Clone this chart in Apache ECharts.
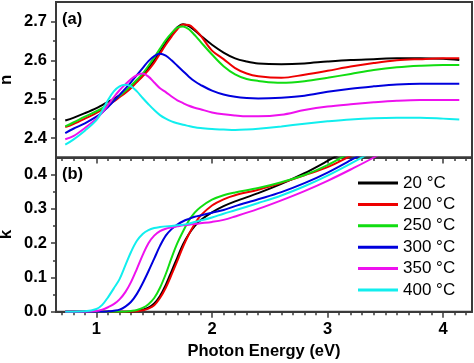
<!DOCTYPE html>
<html>
<head>
<meta charset="utf-8">
<script src="https://cdn.jsdelivr.net/npm/echarts@6/dist/echarts.min.js"></script>
<style>html,body{margin:0;padding:0;background:#fff;}#c{width:474px;height:363px;}</style>
</head>
<body>
<div id="c"></div>
<script>
// ---- data ----
const seriesNames = ['20 °C', '200 °C', '250 °C', '300 °C', '350 °C', '400 °C'];
const energyN = [0.73, 0.8, 0.9, 1.0, 1.05, 1.1, 1.15, 1.2, 1.25, 1.3, 1.35, 1.4, 1.45, 1.5, 1.55, 1.6, 1.65, 1.7, 1.75, 1.8, 1.85, 1.9, 2.0, 2.1, 2.2, 2.3, 2.4, 2.6, 2.8, 3.0, 3.2, 3.4, 3.6, 3.8, 4.0, 4.14];
const n20  = [2.445, 2.452, 2.464, 2.477, 2.485, 2.493, 2.501, 2.510, 2.520, 2.532, 2.546, 2.562, 2.580, 2.600, 2.622, 2.645, 2.667, 2.685, 2.693, 2.688, 2.677, 2.664, 2.640, 2.620, 2.605, 2.597, 2.592, 2.590, 2.592, 2.597, 2.601, 2.603, 2.605, 2.605, 2.604, 2.601];
const n200 = [2.428, 2.436, 2.450, 2.465, 2.474, 2.484, 2.494, 2.505, 2.516, 2.529, 2.544, 2.559, 2.575, 2.594, 2.617, 2.640, 2.661, 2.680, 2.692, 2.691, 2.680, 2.664, 2.625, 2.603, 2.580, 2.566, 2.559, 2.555, 2.563, 2.573, 2.584, 2.593, 2.600, 2.603, 2.605, 2.605];
const n250 = [2.430, 2.440, 2.455, 2.469, 2.477, 2.486, 2.497, 2.509, 2.521, 2.535, 2.550, 2.566, 2.586, 2.607, 2.630, 2.652, 2.670, 2.684, 2.687, 2.680, 2.665, 2.648, 2.615, 2.585, 2.564, 2.552, 2.547, 2.542, 2.546, 2.555, 2.565, 2.575, 2.582, 2.586, 2.588, 2.588];
const n300 = [2.413, 2.424, 2.438, 2.455, 2.466, 2.480, 2.495, 2.511, 2.527, 2.544, 2.562, 2.580, 2.598, 2.611, 2.617, 2.612, 2.600, 2.586, 2.572, 2.558, 2.546, 2.537, 2.522, 2.512, 2.506, 2.503, 2.502, 2.504, 2.509, 2.519, 2.527, 2.533, 2.538, 2.540, 2.540, 2.540];
const n350 = [2.397, 2.405, 2.426, 2.450, 2.466, 2.485, 2.505, 2.523, 2.538, 2.552, 2.562, 2.566, 2.558, 2.543, 2.528, 2.518, 2.507, 2.497, 2.490, 2.483, 2.478, 2.474, 2.466, 2.461, 2.458, 2.456, 2.456, 2.460, 2.472, 2.481, 2.487, 2.492, 2.496, 2.498, 2.498, 2.498];
const n400 = [2.383, 2.396, 2.419, 2.446, 2.470, 2.498, 2.520, 2.533, 2.537, 2.533, 2.520, 2.503, 2.487, 2.472, 2.459, 2.450, 2.443, 2.438, 2.434, 2.431, 2.428, 2.426, 2.423, 2.422, 2.421, 2.422, 2.424, 2.430, 2.437, 2.443, 2.448, 2.451, 2.452, 2.452, 2.450, 2.448];

const energyK = [0.73, 0.8, 0.9, 1.0, 1.05, 1.1, 1.15, 1.2, 1.25, 1.3, 1.35, 1.4, 1.45, 1.5, 1.55, 1.6, 1.65, 1.7, 1.75, 1.8, 1.85, 1.9, 2.0, 2.1, 2.2, 2.4, 2.6, 2.8, 3.0, 3.2, 3.4, 3.6];
const k20  = [0, 0, 0, 0, 0, 0, 0, 0, 0, 0, 0.002, 0.006, 0.012, 0.024, 0.046, 0.078, 0.118, 0.158, 0.197, 0.227, 0.250, 0.267, 0.290, 0.308, 0.322, 0.346, 0.373, 0.404, 0.440, 0.478, 0.52, 0.56];
const k200 = [0, 0, 0, 0, 0, 0, 0, 0, 0, 0, 0.001, 0.004, 0.009, 0.019, 0.040, 0.070, 0.108, 0.148, 0.190, 0.226, 0.256, 0.280, 0.310, 0.328, 0.340, 0.356, 0.376, 0.398, 0.422, 0.455, 0.49, 0.53];
const k250 = [0, 0, 0, 0, 0, 0, 0, 0, 0, 0.002, 0.005, 0.011, 0.022, 0.040, 0.070, 0.110, 0.157, 0.200, 0.235, 0.266, 0.289, 0.305, 0.327, 0.340, 0.348, 0.361, 0.378, 0.399, 0.428, 0.465, 0.50, 0.54];
const k300 = [0, 0, 0, 0, 0, 0.001, 0.003, 0.006, 0.015, 0.029, 0.052, 0.083, 0.118, 0.155, 0.192, 0.222, 0.241, 0.254, 0.264, 0.271, 0.277, 0.281, 0.289, 0.297, 0.308, 0.328, 0.349, 0.375, 0.406, 0.442, 0.48, 0.52];
const k350 = [0, 0, 0, 0.002, 0.006, 0.013, 0.022, 0.036, 0.057, 0.087, 0.125, 0.165, 0.200, 0.222, 0.235, 0.242, 0.246, 0.249, 0.252, 0.254, 0.256, 0.258, 0.262, 0.268, 0.278, 0.300, 0.325, 0.352, 0.382, 0.415, 0.450, 0.49];
const k400 = [0, 0, 0.001, 0.008, 0.020, 0.042, 0.068, 0.095, 0.135, 0.175, 0.207, 0.227, 0.238, 0.244, 0.247, 0.249, 0.250, 0.252, 0.254, 0.257, 0.262, 0.266, 0.275, 0.286, 0.296, 0.317, 0.339, 0.366, 0.397, 0.432, 0.47, 0.51];

const xMajorTicks = [1, 2, 3, 4];
const xMinorTicks = [0.7, 0.8, 0.9, 1.1, 1.2, 1.3, 1.4, 1.5, 1.6, 1.7, 1.8, 1.9, 2.1, 2.2, 2.3, 2.4, 2.5, 2.6, 2.7, 2.8, 2.9, 3.1, 3.2, 3.3, 3.4, 3.5, 3.6, 3.7, 3.8, 3.9, 4.1, 4.2];
const nMajorTicks = [2.4, 2.5, 2.6, 2.7];
const nMinorTicks = [2.45, 2.55, 2.65];
const kMajorTicks = [0.0, 0.1, 0.2, 0.3, 0.4];
const kMinorTicks = [0.05, 0.15, 0.25, 0.35];

const colors = ['#000000', '#ee0000', '#11dd11', '#0000dd', '#ee11ee', '#11eeee'];
const nSets = [n20, n200, n250, n300, n350, n400];
const kSets = [k20, k200, k250, k300, k350, k400];

// ---- chart ----
const FONT = "'Liberation Sans', Arial, sans-serif";
const frameColor = '#3a3a3a';
const chart = echarts.init(document.getElementById('c'), null, {renderer: 'canvas'});

function majorX(grid, labels) {
  return {
    type: 'value', gridIndex: grid, min: 0.65, max: 4.25, position: 'bottom',
    axisLine: {show: true, lineStyle: {color: frameColor, width: 2}},
    axisTick: {show: true, inside: false, length: 6, customValues: xMajorTicks, lineStyle: {color: frameColor, width: 1.5}},
    axisLabel: labels ? {show: true, customValues: xMajorTicks, margin: 9, color: '#000', fontSize: 16.5, fontWeight: 'bold', fontFamily: FONT} : {show: false},
    splitLine: {show: false},
    name: labels ? 'Photon Energy (eV)' : '',
    nameLocation: 'middle', nameGap: 31, nameMoveOverlap: false,
    nameTextStyle: {color: '#000', fontSize: 16.5, fontWeight: 'bold', fontFamily: FONT}
  };
}
function minorX(grid) {
  return {
    type: 'value', gridIndex: grid, min: 0.65, max: 4.25, position: 'bottom',
    axisLine: {show: false},
    axisTick: {show: true, inside: false, length: 3.5, customValues: xMinorTicks, lineStyle: {color: frameColor, width: 1.5}},
    axisLabel: {show: false}, splitLine: {show: false}
  };
}
function majorY(grid, min, max, ticks, name, dec) {
  return {
    type: 'value', gridIndex: grid, min: min, max: max, position: 'left',
    axisLine: {show: true, lineStyle: {color: frameColor, width: 2}},
    axisTick: {show: true, inside: false, length: 5, customValues: ticks, lineStyle: {color: frameColor, width: 1.5}},
    axisLabel: {show: true, customValues: ticks, margin: 9, color: '#000', fontSize: 16.5, fontWeight: 'bold', fontFamily: FONT,
      formatter: v => Number(v).toFixed(dec)},
    splitLine: {show: false},
    name: name, nameLocation: 'middle', nameGap: 41, nameRotate: 90, nameMoveOverlap: false,
    nameTextStyle: {color: '#000', fontSize: 17, fontWeight: 'bold', fontFamily: FONT}
  };
}
function minorY(grid, min, max, ticks) {
  return {
    type: 'value', gridIndex: grid, min: min, max: max, position: 'left',
    axisLine: {show: false},
    axisTick: {show: true, inside: false, length: 3, customValues: ticks, lineStyle: {color: frameColor, width: 1.5}},
    axisLabel: {show: false}, splitLine: {show: false}
  };
}

const series = [];
seriesNames.forEach((nm, i) => {
  series.push({
    name: nm, type: 'line', xAxisIndex: 0, yAxisIndex: 0,
    data: energyN.map((e, j) => [e, nSets[i][j]]),
    smooth: 0.35, showSymbol: false, symbol: 'none', clip: true,
    lineStyle: {color: colors[i], width: 2}, itemStyle: {color: colors[i]}, z: 3 + i
  });
  series.push({
    name: nm, type: 'line', xAxisIndex: 2, yAxisIndex: 2,
    data: energyK.map((e, j) => [e, kSets[i][j]]),
    smooth: 0.35, showSymbol: false, symbol: 'none', clip: true,
    lineStyle: {color: colors[i], width: 2}, itemStyle: {color: colors[i]}, z: 3 + i
  });
});

chart.setOption({
  animation: false,
  backgroundColor: '#ffffff',
  grid: [
    {left: 56, right: 2, top: 2, height: 155.5, show: true, borderColor: frameColor, borderWidth: 2, backgroundColor: 'transparent', containLabel: false, outerBoundsMode: 'none'},
    {left: 56, right: 2, top: 157.5, height: 154.2, show: true, borderColor: frameColor, borderWidth: 2, backgroundColor: 'transparent', containLabel: false, outerBoundsMode: 'none'}
  ],
  xAxis: [majorX(0, false), minorX(0), majorX(1, true), minorX(1)],
  yAxis: [
    majorY(0, 2.35, 2.75, nMajorTicks, 'n', 1), minorY(0, 2.35, 2.75, nMinorTicks),
    majorY(1, 0, 0.45, kMajorTicks, 'k', 1), minorY(1, 0, 0.45, kMinorTicks)
  ],
  legend: {
    data: seriesNames, orient: 'vertical', left: 358, top: 174.5, padding: 0,
    itemWidth: 40, itemHeight: 3, itemGap: 4.4, icon: 'rect', selectedMode: false,
    textStyle: {color: '#000', fontSize: 17, fontFamily: FONT, lineHeight: 17}
  },
  graphic: [
    {type: 'text', left: 62, top: 11, style: {text: '(a)', fill: '#000', font: 'bold 16.5px ' + FONT}},
    {type: 'text', left: 62, top: 166, style: {text: '(b)', fill: '#000', font: 'bold 16.5px ' + FONT}}
  ],
  series: series
});
</script>
</body>
</html>
